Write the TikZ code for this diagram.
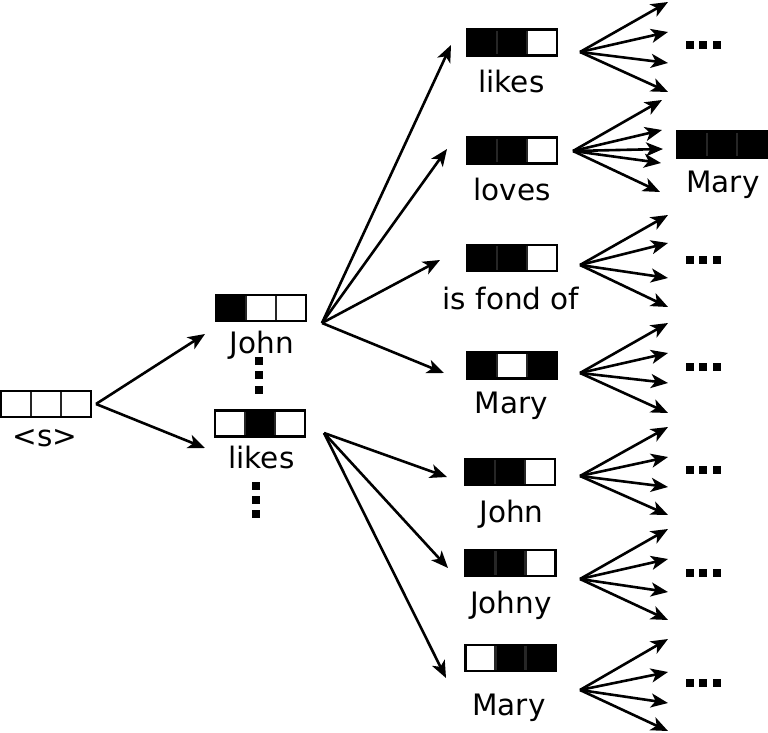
\documentclass[tikz,border=0pt]{standalone}
\usepackage{fontspec}
\setmainfont{DejaVu Sans}
\usetikzlibrary{arrows.meta}
\tikzset{
  wordbox/.style={draw, line width=2.7pt, minimum width=90pt, minimum height=26pt, inner sep=0pt},
  lbl/.style={anchor=base, inner sep=0pt, font=\fontsize{29.5}{29.5}\selectfont},
  arr/.style={line width=2.6pt, -{Stealth[length=17pt,width=14pt,inset=4.5pt]}},
  divider/.style={line width=2.2pt, draw=black!85},
}
\newcommand\wbox[6]{%
  \begin{scope}[shift={(#2,#3)}]
    \fill[#4] (-45,-13) rectangle (-15,13);
    \fill[#5] (-15,-13) rectangle (15,13);
    \fill[#6] (15,-13) rectangle (45,13);
    \draw[divider] (-15,-13) -- (-15,13) (15,-13) -- (15,13);
  \end{scope}
  \node[wordbox] (#1) at (#2,#3) {};
}
\newcommand\sqdot[2]{\fill (#1-4,#2-4) rectangle (#1+4,#2+4);}
\newcommand\hdots[1]{\sqdot{690}{#1}\sqdot{703}{#1}\sqdot{717}{#1}}
\begin{document}
\begin{tikzpicture}[x=1pt,y=-1pt]
\useasboundingbox (0,0) rectangle (768,733);
% boxes
\wbox{s}{46}{404}{white}{white}{white}
\wbox{johnA}{261}{308}{black}{white}{white}
\wbox{likesA}{260}{423.5}{white}{black}{white}
\wbox{likesB}{512}{42.5}{black}{black}{white}
\wbox{loves}{512}{150.5}{black}{black}{white}
\wbox{fond}{512}{258}{black}{black}{white}
\wbox{maryA}{512}{365.5}{black}{white}{black}
\wbox{johnB}{510}{472}{black}{black}{white}
\wbox{johny}{510.5}{563}{black}{black}{white}
\wbox{maryB}{510.5}{658}{white}{black}{black}
\wbox{maryR}{722}{144.5}{black}{black}{black}
% labels
\node[lbl] (ls) at (45,446) {<s>};
\node[lbl] (ljohnA) at (262,353) {John};
\node[lbl] (llikesA) at (261.5,468) {likes};
\node[lbl] (llikesB) at (511.5,93) {likes};
\node[lbl] (lloves) at (512,200) {loves};
\node[lbl] (lfond) at (511,309) {is fond of};
\node[lbl] (lmaryA) at (511.5,413) {Mary};
\node[lbl] (ljohnB) at (511.5,522) {John};
\node[lbl] (ljohny) at (511,613) {Johny};
\node[lbl] (lmaryB) at (509,715) {Mary};
\node[lbl] (lmaryR) at (723,192) {Mary};
% left arrows
\coordinate (sO) at (96,404);
\coordinate (sT1) at (205,334);
\coordinate (sT2) at (205,448);
\draw[arr] (sO) -- (sT1);
\draw[arr] (sO) -- (sT2);
\coordinate (jO) at (322,323);
\coordinate (jT1) at (451,45);
\coordinate (jT2) at (447,149);
\coordinate (jT3) at (440,260);
\coordinate (jT4) at (444,373);
\foreach \i in {1,...,4} \draw[arr] (jO) -- (jT\i);
\coordinate (lO) at (324,433);
\coordinate (lT1) at (447,477);
\coordinate (lT2) at (448,568);
\coordinate (lT3) at (446,678);
\foreach \i in {1,...,3} \draw[arr] (lO) -- (lT\i);
% right fans
\foreach \n/\oy/\ta/\tb/\tc/\td in {A/52/2/32/63/92, C/265/215/243/278/307, D/373/323/353/383/413, E/476/427/457/487/515, F/579/529/559/592/620, G/690/639/672/703/731}{
  \coordinate (f\n O) at (580,\oy);
  \coordinate (f\n T1) at (668,\ta);
  \coordinate (f\n T2) at (668,\tb);
  \coordinate (f\n T3) at (668,\tc);
  \coordinate (f\n T4) at (668,\td);
  \foreach \i in {1,...,4} \draw[arr] (f\n O) -- (f\n T\i);
}
\coordinate (fBO) at (573,151);
\coordinate (fBT1) at (662,100);
\coordinate (fBT2) at (662,130);
\coordinate (fBT3) at (663,149);
\coordinate (fBT4) at (661,163);
\coordinate (fBT5) at (660,192);
\foreach \i in {1,...,5} \draw[arr] (fBO) -- (fBT\i);
% dots
\hdots{45}
\hdots{260}
\hdots{367}
\hdots{470}
\hdots{573}
\hdots{683}
\sqdot{259}{361}\sqdot{259}{375}\sqdot{259}{390}
\sqdot{256}{486}\sqdot{256}{500}\sqdot{256}{514}
\end{tikzpicture}
\end{document}
